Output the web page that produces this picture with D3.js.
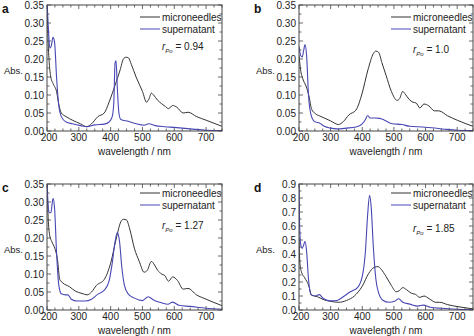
<!DOCTYPE html>
<html>
<head>
<meta charset="utf-8">
<script src="https://cdn.jsdelivr.net/npm/d3@7"></script>
<style>
  body { margin: 0; background: #fff; }
  svg { font-family: "Liberation Sans", Arial, sans-serif; }
</style>
</head>
<body>
<div id="chart"></div>
<script>
// spectra as [wavelength nm, absorbance]
var aMicroneedles = [[200,0.36],[203,0.26],[207,0.19],[212,0.15],[220,0.13],[230,0.11],[238,0.07],[245,0.05],[260,0.04],[280,0.03],[305,0.02],[325,0.012],[340,0.02],[360,0.04],[380,0.05],[395,0.08],[415,0.13],[430,0.17],[440,0.2],[448,0.205],[456,0.203],[465,0.185],[480,0.15],[500,0.11],[513,0.08],[520,0.088],[528,0.105],[535,0.1],[548,0.085],[560,0.076],[572,0.068],[582,0.062],[595,0.071],[608,0.066],[628,0.05],[644,0.052],[670,0.04],[700,0.03],[750,0.013]];
var aSupernatant = [[200,0.36],[204,0.29],[209,0.23],[213,0.235],[219,0.26],[224,0.245],[230,0.15],[237,0.07],[245,0.04],[260,0.025],[280,0.02],[305,0.015],[325,0.012],[350,0.017],[380,0.019],[395,0.025],[405,0.04],[410,0.08],[414,0.19],[417,0.195],[421,0.12],[426,0.05],[432,0.032],[455,0.027],[480,0.02],[505,0.016],[520,0.02],[540,0.015],[570,0.012],[600,0.01],[650,0.006],[700,0.002],[750,0.001]];

var bMicroneedles = [[200,0.21],[205,0.17],[212,0.145],[222,0.125],[232,0.095],[240,0.06],[252,0.048],[270,0.04],[300,0.028],[325,0.018],[340,0.026],[358,0.045],[380,0.058],[398,0.1],[418,0.17],[435,0.215],[443,0.222],[452,0.218],[462,0.19],[475,0.155],[492,0.11],[510,0.085],[518,0.09],[528,0.11],[536,0.102],[548,0.088],[560,0.08],[570,0.078],[582,0.064],[595,0.075],[610,0.07],[628,0.056],[642,0.056],[670,0.042],[700,0.03],[750,0.013]];
var bSupernatant = [[200,0.235],[205,0.21],[210,0.205],[215,0.225],[219,0.24],[224,0.21],[230,0.1],[238,0.045],[250,0.026],[265,0.022],[280,0.013],[300,0.008],[320,0.006],[350,0.008],[380,0.011],[400,0.02],[410,0.032],[417,0.043],[425,0.036],[440,0.036],[455,0.035],[470,0.03],[495,0.02],[525,0.018],[550,0.013],[590,0.011],[620,0.009],[660,0.005],[700,0.002],[750,0.001]];

var cMicroneedles = [[200,0.36],[203,0.27],[208,0.21],[215,0.19],[225,0.17],[233,0.14],[240,0.085],[250,0.075],[270,0.065],[290,0.052],[310,0.046],[326,0.042],[340,0.05],[355,0.068],[380,0.085],[400,0.13],[418,0.2],[432,0.245],[440,0.252],[450,0.25],[460,0.225],[475,0.17],[490,0.135],[505,0.105],[515,0.11],[528,0.135],[538,0.125],[548,0.11],[560,0.1],[570,0.096],[582,0.08],[595,0.092],[610,0.082],[628,0.058],[643,0.06],[670,0.042],[700,0.03],[750,0.012]];
var cSupernatant = [[200,0.36],[203,0.3],[207,0.27],[212,0.27],[219,0.31],[224,0.28],[230,0.16],[237,0.07],[245,0.045],[258,0.042],[266,0.042],[276,0.03],[295,0.025],[320,0.025],[340,0.03],[360,0.044],[380,0.055],[395,0.08],[405,0.13],[414,0.19],[421,0.215],[428,0.19],[435,0.12],[443,0.07],[455,0.045],[475,0.033],[500,0.026],[518,0.037],[535,0.028],[560,0.02],[580,0.016],[595,0.022],[615,0.013],[650,0.01],[700,0.005],[750,0.002]];

var dMicroneedles = [[200,0.52],[203,0.33],[208,0.27],[218,0.23],[230,0.18],[240,0.105],[258,0.095],[280,0.072],[300,0.062],[325,0.055],[350,0.068],[375,0.1],[400,0.17],[420,0.26],[438,0.305],[450,0.31],[460,0.29],[475,0.24],[492,0.175],[507,0.13],[518,0.14],[528,0.16],[540,0.145],[555,0.12],[568,0.112],[582,0.09],[595,0.1],[612,0.08],[632,0.055],[645,0.055],[670,0.038],[700,0.025],[750,0.008]];
var dSupernatant = [[200,0.95],[202,0.6],[206,0.46],[210,0.44],[214,0.46],[219,0.49],[224,0.42],[230,0.22],[238,0.11],[252,0.1],[264,0.11],[278,0.08],[300,0.065],[320,0.068],[340,0.095],[362,0.13],[385,0.16],[400,0.24],[410,0.42],[417,0.68],[423,0.82],[428,0.74],[435,0.45],[443,0.22],[452,0.12],[465,0.07],[485,0.055],[502,0.062],[515,0.08],[528,0.055],[550,0.042],[575,0.028],[593,0.035],[615,0.02],[650,0.012],[700,0.005],[750,0.002]];

var xTicks = [200, 300, 400, 500, 600, 700];
var yTicksLow = [0, 0.05, 0.10, 0.15, 0.20, 0.25, 0.30, 0.35];
var yTicksHigh = [0, 0.1, 0.2, 0.3, 0.4, 0.5, 0.6, 0.7, 0.8, 0.9];
var legendNames = ["microneedles", "supernatant"];
var panelLetters = ["a", "b", "c", "d"];
var rPo = ["0.94", "1.0", "1.27", "1.85"];

var black = "#333";
var blue = "#4848b4";

window.w = 474;
window.h = 336;

const svg = d3.select("#chart").append("svg")
  .attr("width", w)
  .attr("height", h);

// frame box for each panel
var panels = [
  {left: 47, right: 222, top: 5, bottom: 131, yMax: 0.35, yTicks: yTicksLow, fmt: ".2f", micro: aMicroneedles, sup: aSupernatant, legX: 140, legY: 17, rY: 47},
  {left: 299, right: 473, top: 5, bottom: 131, yMax: 0.35, yTicks: yTicksLow, fmt: ".2f", micro: bMicroneedles, sup: bSupernatant, legX: 391, legY: 17, rY: 50},
  {left: 47, right: 222, top: 184, bottom: 310, yMax: 0.35, yTicks: yTicksLow, fmt: ".2f", micro: cMicroneedles, sup: cSupernatant, legX: 140, legY: 193, rY: 226},
  {left: 299, right: 473, top: 184, bottom: 310, yMax: 0.9, yTicks: yTicksHigh, fmt: ".1f", micro: dMicroneedles, sup: dSupernatant, legX: 391, legY: 193, rY: 229}
];

panels.forEach(function(p, i) {
  drawPanel(p, i);
});

function drawPanel(p, i) {
  var xScale = d3.scaleLinear().domain([200, 750]).range([p.left, p.right]);
  var yScale = d3.scaleLinear().domain([0, p.yMax]).range([p.bottom, p.top]);
  var g = svg.append("g");

  var clipId = "clip" + i;
  g.append("clipPath").attr("id", clipId)
    .append("rect")
    .attr("x", p.left).attr("y", p.top)
    .attr("width", p.right - p.left).attr("height", p.bottom - p.top);

  // minor ticks every 25 nm / half step, on all four sides
  var xMinor = d3.range(200, 751, 25);
  var yStep = p.yTicks[1] - p.yTicks[0];
  var yMinor = d3.range(0, p.yMax + 1e-9, yStep / 2);

  var ticks = g.append("g").attr("stroke", "#444").attr("stroke-width", 0.8);
  xMinor.forEach(function(v) {
    var len = (v % 100 == 0) ? 4 : 2.5;
    ticks.append("line").attr("x1", xScale(v)).attr("x2", xScale(v))
      .attr("y1", p.bottom).attr("y2", p.bottom - len);
    ticks.append("line").attr("x1", xScale(v)).attr("x2", xScale(v))
      .attr("y1", p.top).attr("y2", p.top + len);
  });
  yMinor.forEach(function(v, k) {
    var len = (k % 2 == 0) ? 4 : 2.5;
    ticks.append("line").attr("y1", yScale(v)).attr("y2", yScale(v))
      .attr("x1", p.left).attr("x2", p.left + len);
    ticks.append("line").attr("y1", yScale(v)).attr("y2", yScale(v))
      .attr("x1", p.right).attr("x2", p.right - len);
  });

  var line = d3.line()
    .curve(d3.curveMonotoneX)
    .x(function(d) { return xScale(d[0]); })
    .y(function(d) { return yScale(d[1]); });

  g.append("path").datum(p.micro)
    .attr("clip-path", "url(#" + clipId + ")")
    .attr("fill", "none").attr("stroke", black).attr("stroke-width", 1)
    .attr("d", line);
  g.append("path").datum(p.sup)
    .attr("clip-path", "url(#" + clipId + ")")
    .attr("fill", "none").attr("stroke", blue).attr("stroke-width", 1.1)
    .attr("d", line);

  g.append("rect")
    .attr("x", p.left).attr("y", p.top)
    .attr("width", p.right - p.left).attr("height", p.bottom - p.top)
    .attr("fill", "none").attr("stroke", "#444").attr("stroke-width", 1);

  // tick labels
  var fmt = d3.format(p.fmt);
  g.selectAll(".ylab").data(p.yTicks).enter().append("text")
    .attr("x", p.left - 3)
    .attr("y", function(d) { return yScale(d) + 3.5; })
    .attr("text-anchor", "end")
    .attr("font-size", 10)
    .attr("fill", "#222")
    .text(function(d) { return fmt(d); });
  g.selectAll(".xlab").data(xTicks).enter().append("text")
    .attr("x", function(d) { return xScale(d) + (d == 200 ? 2 : 0); })
    .attr("y", p.bottom + 10)
    .attr("text-anchor", "middle")
    .attr("font-size", 10)
    .attr("fill", "#222")
    .text(function(d) { return d; });

  g.append("text")
    .attr("x", (p.left + p.right) / 2)
    .attr("y", p.bottom + 24)
    .attr("text-anchor", "middle")
    .attr("font-size", 10)
    .attr("fill", "#222")
    .text("wavelength / nm");

  g.append("text")
    .attr("x", p.left - 43)
    .attr("y", p.top + 69)
    .attr("font-size", 9.5)
    .attr("fill", "#222")
    .text("Abs.");

  g.append("text")
    .attr("x", p.left - 45)
    .attr("y", p.top + 8)
    .attr("font-size", 12)
    .attr("font-weight", "bold")
    .attr("fill", "#111")
    .text(panelLetters[i]);

  // legend
  var legColors = [black, blue];
  legendNames.forEach(function(name, k) {
    var ly = p.legY + k * 12;
    g.append("line")
      .attr("x1", p.legX).attr("x2", p.legX + 20)
      .attr("y1", ly).attr("y2", ly)
      .attr("stroke", legColors[k]).attr("stroke-width", 1);
    g.append("text")
      .attr("x", p.legX + 22).attr("y", ly + 3.5)
      .attr("font-size", 10).attr("fill", "#222")
      .text(name);
  });

  var r = g.append("text")
    .attr("x", p.legX + 22).attr("y", p.rY + 3)
    .attr("font-size", 10).attr("fill", "#222");
  r.append("tspan").attr("font-style", "italic").text("r");
  r.append("tspan").attr("font-style", "italic").attr("font-size", 6).attr("dy", 3).text("Po");
  r.append("tspan").attr("dy", -3).text(" = " + rPo[i]);
}
</script>
</body>
</html>
